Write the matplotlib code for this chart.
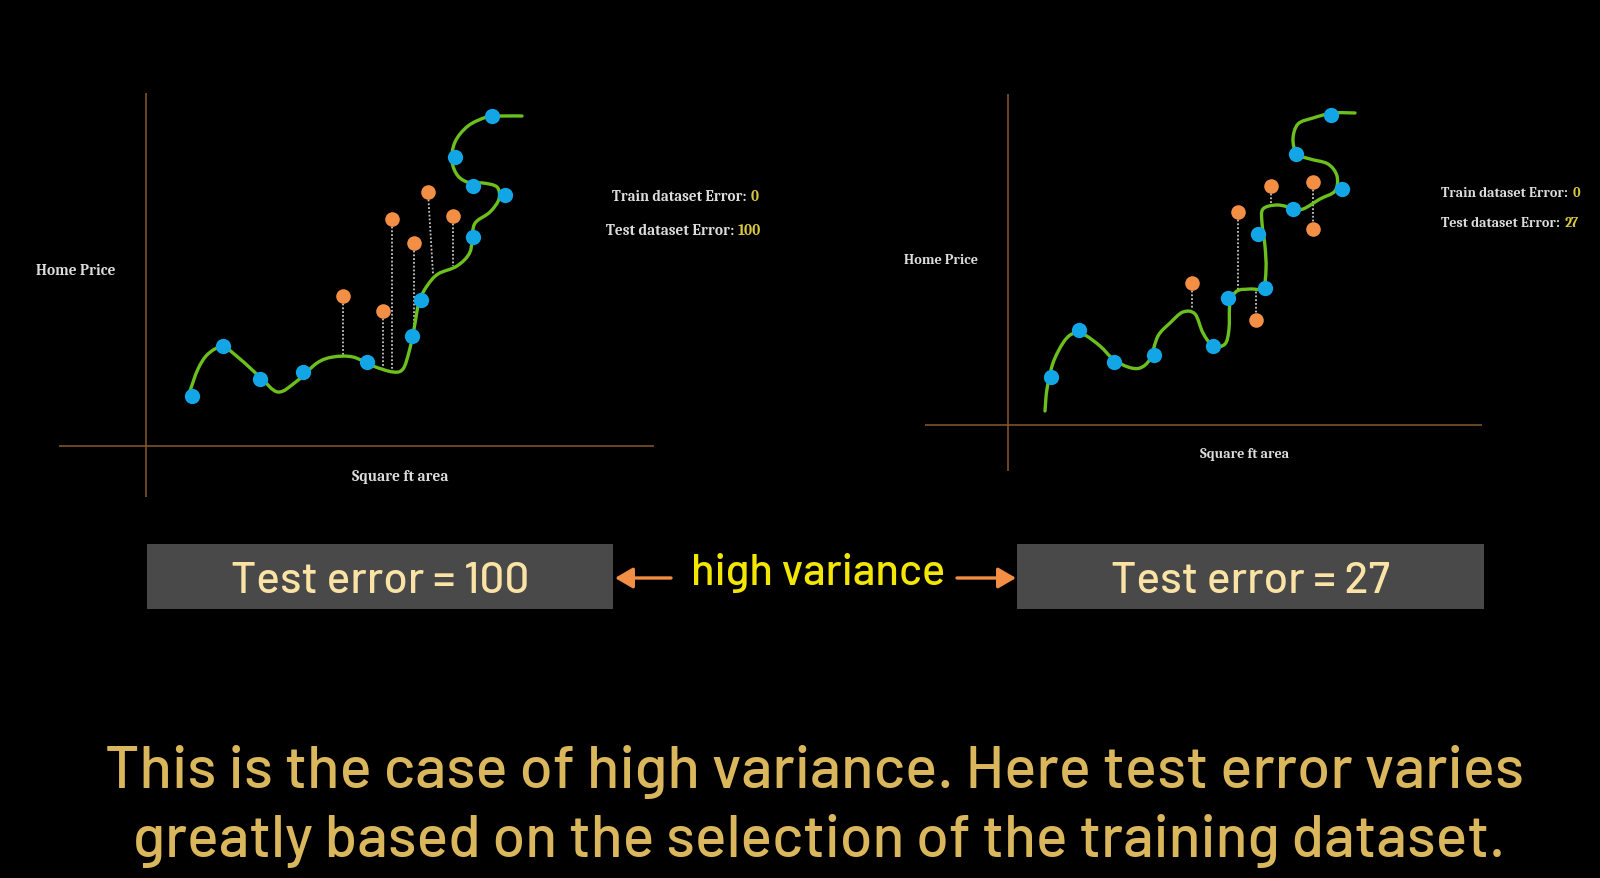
import matplotlib
matplotlib.use("Agg")
import matplotlib.pyplot as plt
import numpy as np
from matplotlib.patches import PathPatch, Rectangle
from matplotlib.path import Path

W, H, DPI = 1600, 879, 100

# ---- left panel: model fitted on training set 1 (data units = px from origin)
left_fit_x = [44, 52, 62, 77, 94, 114, 132, 151, 171, 187, 207, 227, 247, 257, 263,
              268, 273, 281, 292, 311, 324, 327, 331, 344, 353, 351, 337, 324, 312,
              306, 309, 322, 341, 357, 376]
left_fit_y = [55, 77, 92, 99, 87, 69, 54, 65, 83, 89, 89, 80, 74, 77, 94,
              117, 144, 160, 172, 180, 194, 217, 225, 234, 247, 259, 263, 263, 270,
              285, 304, 320, 329, 330, 330]
left_train_x = [46, 77, 114, 157, 221, 266, 275, 327, 359, 327, 309, 346]
left_train_y = [50, 100, 67, 74, 84, 110, 146, 209, 251, 260, 289, 330]
left_test_x = [197, 237, 246, 268, 282, 307]
left_test_y = [150, 135, 227, 203, 254, 230]
left_foot_x = [197, 237, 246, 268, 287, 307]
left_foot_y = [89, 77, 75, 118, 172, 180]

# ---- right panel: model fitted on training set 2
right_fit_x = [37, 39, 45, 55, 64, 75, 92, 105, 120, 132, 142, 150, 162, 175, 187,
               195, 205, 217, 221, 222, 229, 242, 255, 258, 257, 254, 255, 269, 285,
               295, 312, 327, 329, 320, 302, 289, 285, 290, 305, 325, 347]
right_fit_y = [14, 36, 62, 82, 91, 91, 79, 66, 58, 57, 66, 89, 102, 113, 111,
               92, 79, 81, 96, 122, 134, 136, 137, 156, 179, 202, 216, 220, 217,
               216, 226, 234, 249, 261, 266, 271, 286, 301, 307, 312, 312]
right_train_x = [43, 71, 106, 146, 205, 220, 257, 250, 285, 334, 288, 323]
right_train_y = [48, 95, 63, 70, 79, 127, 137, 191, 216, 236, 271, 310]
right_test_x = [184, 230, 248, 263, 305, 305]
right_test_y = [142, 213, 105, 239, 243, 196]
right_foot_x = [184, 230, 248, 263, 305, 305]
right_foot_y = [116, 136, 136, 219, 221, 221]

train_error = [0, 0]
test_error = [100, 27]
summary_lines = ["This is the case of high variance. Here test error varies",
                 "greatly based on the selection of the training dataset."]

AXIS_C = "#8a5a2e"
GREEN = "#6cbf1c"
BLUE = "#12a6e6"
ORANGE = "#f28f45"
LABEL_C = "#dcdcdc"
NUM_C = "#d8c840"
GOLD = "#dab65c"
CREAM = "#fbe3a6"
YELLOW = "#f3e600"
BOX_C = "#494949"

SERIF = ["Caladea", "Liberation Serif", "DejaVu Serif"]
CAPTION = ["Barlow", "Roboto", "DejaVu Sans"]

fig = plt.figure(figsize=(W / DPI, H / DPI), dpi=DPI, facecolor="black")
renderer = fig.canvas.get_renderer()


def px_rect(x0, y0, x1, y1):
    return [x0 / W, 1 - y1 / H, (x1 - x0) / W, (y1 - y0) / H]


def fit_width(t, target):
    w = t.get_window_extent(renderer).width
    t.set_fontsize(t.get_fontsize() * target / w)
    return t


def smooth_path(xs, ys):
    # Catmull-Rom through the traced vertices, drawn as cubic Beziers
    p = np.column_stack([xs, ys]).astype(float)
    ext = np.vstack([p[0], p, p[-1]])
    verts, codes = [p[0]], [Path.MOVETO]
    for i in range(1, len(ext) - 2):
        p0, p1, p2, p3 = ext[i - 1], ext[i], ext[i + 1], ext[i + 2]
        verts += [p1 + (p2 - p0) / 6, p2 - (p3 - p1) / 6, p2]
        codes += [Path.CURVE4] * 3
    return Path(verts, codes)


def panel(rect, origin, fit_x, fit_y, tr_x, tr_y, te_x, te_y, ft_x, ft_y):
    x0, y0, x1, y1 = rect
    ox, oy = origin
    ax = fig.add_axes(px_rect(x0, y0, x1, y1))
    ax.set_xlim(x0 - ox, x1 - ox)
    ax.set_ylim(oy - y1, oy - y0)
    ax.set_facecolor("none")
    ax.set_axis_off()
    ax.axhline(0, color=AXIS_C, lw=1.1)
    ax.axvline(0, color=AXIS_C, lw=1.1)
    for tx, ty, fx, fy in zip(te_x, te_y, ft_x, ft_y):
        ax.plot([tx, fx], [ty, fy], ls=(0, (1, 1.1)), color="#c4c4c4", lw=1.3, zorder=1)
    ax.add_patch(PathPatch(smooth_path(fit_x, fit_y), fill=False, edgecolor=GREEN,
                           lw=2.4, capstyle="round", joinstyle="round", zorder=2))
    ax.plot(tr_x, tr_y, "o", color=BLUE, ms=11, mew=0, zorder=3)
    ax.plot(te_x, te_y, "o", color=ORANGE, ms=10.5, mew=0, zorder=3)
    return ax


panel((59, 94, 654, 498), (146, 447), left_fit_x, left_fit_y, left_train_x, left_train_y,
      left_test_x, left_test_y, left_foot_x, left_foot_y)
panel((925, 95, 1482, 472), (1008, 426), right_fit_x, right_fit_y, right_train_x, right_train_y,
      right_test_x, right_test_y, right_foot_x, right_foot_y)

ov = fig.add_axes([0, 0, 1, 1])
ov.set_xlim(0, W)
ov.set_ylim(H, 0)
ov.set_facecolor("none")
ov.set_axis_off()

# axis titles
for x, y, txt, ha, wid in [(36, 271, "Home Price", "left", 79),
                           (904, 260, "Home Price", "left", 74),
                           (400, 477, "Square ft area", "center", 96),
                           (1245, 454, "Square ft area", "center", 89)]:
    fit_width(ov.text(x, y, txt, color=LABEL_C, family=SERIF, weight="bold", fontsize=12,
                      ha=ha, va="center"), wid)

# error readouts: label right-aligned, number left-aligned
readouts = [
    (746, 751, 197, "Train dataset Error:", train_error[0], 135),
    (734, 738, 231, "Test dataset Error:", test_error[0], 128),
    (1568, 1573, 193, "Train dataset Error:", train_error[1], 127),
    (1560, 1565, 223, "Test dataset Error:", test_error[1], 119),
]
for xl, xn, y, label, val, wid in readouts:
    t = fit_width(ov.text(xl, y, label, color=LABEL_C, family=SERIF, weight="bold",
                          fontsize=11, ha="right", va="center"), wid)
    ov.text(xn, y, str(val), color=NUM_C, family=SERIF, weight="bold",
            fontsize=t.get_fontsize(), ha="left", va="center")

# test error boxes
for (bx0, bx1), val, tw in [((147, 613), test_error[0], 298), ((1017, 1484), test_error[1], 279)]:
    ov.add_patch(Rectangle((bx0, 545), bx1 - bx0, 65, facecolor=BOX_C, edgecolor="none"))
    fit_width(ov.text((bx0 + bx1) / 2, 593, f"Test error = {val}", color=CREAM,
                      family=CAPTION, weight="medium", fontsize=28,
                      ha="center", va="baseline"), tw)

fit_width(ov.text(818, 585, "high variance", color=YELLOW, family=CAPTION, weight="medium",
                  fontsize=26, ha="center", va="baseline"), 254)
arrow = dict(arrowstyle="-|>,head_length=0.6,head_width=0.35", color=ORANGE, lw=2.4,
             mutation_scale=18, shrinkA=0, shrinkB=0)
ov.annotate("", xy=(615, 579), xytext=(671, 579), arrowprops=arrow)
ov.annotate("", xy=(1016, 579), xytext=(957, 579), arrowprops=arrow)

# summary caption
fit_width(ov.text(815, 788, summary_lines[0], color=GOLD, family=CAPTION, weight="medium",
                  fontsize=40, ha="center", va="baseline"), 1417)
fit_width(ov.text(819, 857, summary_lines[1], color=GOLD, family=CAPTION, weight="medium",
                  fontsize=40, ha="center", va="baseline"), 1372)

fig.savefig("out.png", dpi=DPI, facecolor="black")
